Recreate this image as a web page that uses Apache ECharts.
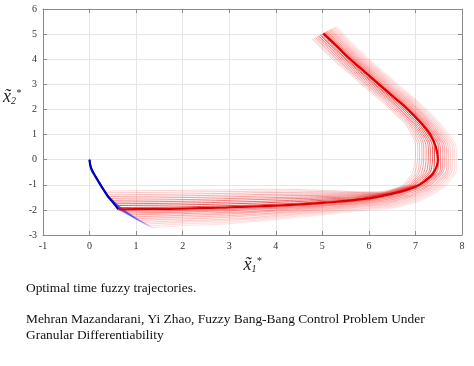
<!DOCTYPE html>
<html>
<head>
<meta charset="utf-8">
<script src="https://cdn.jsdelivr.net/npm/echarts@6/dist/echarts.min.js"></script>
<style>
html,body{margin:0;padding:0;background:#fff;}
#chart{width:474px;height:366px;}
</style>
</head>
<body>
<div id="chart"></div>
<script>
var xTicks = [-1, 0, 1, 2, 3, 4, 5, 6, 7, 8];
var yTicks = [-3, -2, -1, 0, 1, 2, 3, 4, 5, 6];

// crisp (core) red trajectory
var redMain = [[5.02,5.03],[5.31,4.52],[5.6,4.0],[5.91,3.5],[6.22,3.0],[6.53,2.5],[6.84,2.0],[7.10,1.5],[7.32,1.0],[7.44,0.5],[7.48,0.0],[7.45,-0.3],[7.38,-0.55],[7.27,-0.75],[7.0,-1.08],[6.5,-1.36],[6.0,-1.54],[5.0,-1.72],[4.0,-1.83],[3.0,-1.9],[2.0,-1.95],[1.0,-1.97],[0.62,-1.98]];

// inner fuzzy red trajectories (inside the loop)
var redIn01 = [[5.00,5.01],[5.56,4],[6.18,3],[6.80,2],[7.28,1],[7.41,0.3],[7.40,-0.3],[7.23,-0.75],[6.96,-1.08],[6,-1.51],[5,-1.67],[4,-1.77],[3,-1.83],[2,-1.88],[1,-1.90],[0.59,-1.91]];
var redIn02 = [[4.97,4.98],[5.52,4],[6.14,3],[6.76,2],[7.24,1],[7.37,0.3],[7.35,-0.3],[7.19,-0.75],[6.92,-1.09],[6,-1.49],[5,-1.62],[4,-1.70],[3,-1.76],[2,-1.80],[1,-1.82],[0.56,-1.83]];
var redIn03 = [[4.95,4.96],[5.49,4],[6.11,3],[6.72,2],[7.20,1],[7.32,0.3],[7.31,-0.3],[7.14,-0.75],[6.88,-1.09],[6,-1.46],[5,-1.57],[4,-1.64],[3,-1.69],[2,-1.73],[1,-1.75],[0.52,-1.76]];
var redIn04 = [[4.92,4.94],[5.45,4],[6.07,3],[6.68,2],[7.16,1],[7.28,0.3],[7.26,-0.3],[7.10,-0.75],[6.84,-1.10],[6,-1.44],[5,-1.52],[4,-1.57],[3,-1.62],[2,-1.66],[1,-1.68],[0.49,-1.69]];
var redIn05 = [[4.90,4.92],[5.41,4],[6.03,3],[6.65,2],[7.12,1],[7.23,0.3],[7.21,-0.3],[7.06,-0.75],[6.80,-1.10],[6,-1.41],[5,-1.47],[4,-1.51],[3,-1.55],[2,-1.59],[1,-1.61],[0.46,-1.62]];
var redIn06 = [[4.88,4.89],[5.37,4],[5.99,3],[6.61,2],[7.08,1],[7.18,0.3],[7.16,-0.3],[7.02,-0.75],[6.76,-1.10],[6,-1.38],[5,-1.42],[4,-1.44],[3,-1.48],[2,-1.51],[1,-1.53],[0.43,-1.54]];
var redIn07 = [[4.85,4.87],[5.33,4],[5.95,3],[6.57,2],[7.04,1],[7.14,0.3],[7.11,-0.3],[6.98,-0.75],[6.72,-1.11],[6,-1.36],[5,-1.37],[4,-1.38],[3,-1.41],[2,-1.44],[1,-1.46],[0.40,-1.47]];
var redIn08 = [[4.83,4.85],[5.30,4],[5.92,3],[6.53,2],[7.00,1],[7.09,0.3],[7.07,-0.3],[6.93,-0.75],[6.68,-1.11],[6,-1.33],[5,-1.32],[4,-1.31],[3,-1.34],[2,-1.37],[1,-1.39],[0.36,-1.40]];
var redIn09 = [[4.80,4.82],[5.26,4],[5.88,3],[6.49,2],[6.96,1],[7.05,0.3],[7.02,-0.3],[6.89,-0.75],[6.64,-1.12],[6,-1.31],[5,-1.27],[4,-1.25],[3,-1.27],[2,-1.29],[1,-1.31],[0.33,-1.32]];
var redIn10 = [[4.78,4.80],[5.22,4],[5.84,3],[6.45,2],[6.92,1],[7.00,0.3],[6.97,-0.3],[6.85,-0.75],[6.60,-1.12],[6,-1.28],[5,-1.22],[4,-1.18],[3,-1.20],[2,-1.22],[1,-1.24],[0.30,-1.25]];

// outer fuzzy red trajectories (outside the loop)
var redOut01 = [[5.05,5.06],[5.64,4],[6.26,3],[6.88,2],[7.36,1],[7.50,0.3],[7.49,-0.3],[7.32,-0.75],[7.05,-1.10],[6.52,-1.41],[6,-1.59],[5,-1.77],[4,-1.89],[3,-1.97],[2,-2.02],[0.69,-2.05]];
var redOut02 = [[5.07,5.09],[5.68,4],[6.30,3],[6.92,2],[7.40,1],[7.54,0.3],[7.54,-0.3],[7.37,-0.75],[7.09,-1.12],[6.54,-1.46],[6,-1.63],[5,-1.82],[4,-1.94],[3,-2.03],[2,-2.09],[0.77,-2.13]];
var redOut03 = [[5.10,5.12],[5.72,4],[6.34,3],[6.96,2],[7.44,1],[7.59,0.3],[7.58,-0.3],[7.42,-0.75],[7.14,-1.15],[6.56,-1.51],[6,-1.68],[5,-1.86],[4,-2.00],[3,-2.10],[2,-2.15],[0.84,-2.20]];
var redOut04 = [[5.13,5.15],[5.76,4],[6.38,3],[7.00,2],[7.48,1],[7.63,0.3],[7.62,-0.3],[7.47,-0.75],[7.18,-1.17],[6.58,-1.56],[6,-1.72],[5,-1.91],[4,-2.05],[3,-2.16],[2,-2.22],[0.92,-2.28]];
var redOut05 = [[5.16,5.18],[5.80,4],[6.42,3],[7.04,2],[7.52,1],[7.67,0.3],[7.67,-0.3],[7.53,-0.75],[7.23,-1.19],[6.60,-1.61],[6,-1.77],[5,-1.96],[4,-2.11],[3,-2.23],[2,-2.29],[0.99,-2.35]];
var redOut06 = [[5.18,5.20],[5.84,4],[6.46,3],[7.07,2],[7.56,1],[7.71,0.3],[7.71,-0.3],[7.58,-0.75],[7.27,-1.21],[6.62,-1.65],[6,-1.82],[5,-2.01],[4,-2.16],[3,-2.29],[2,-2.36],[1.06,-2.42]];
var redOut07 = [[5.21,5.23],[5.88,4],[6.50,3],[7.11,2],[7.60,1],[7.75,0.3],[7.75,-0.3],[7.63,-0.75],[7.32,-1.23],[6.64,-1.70],[6,-1.86],[5,-2.06],[4,-2.22],[3,-2.36],[2,-2.43],[1.14,-2.50]];
var redOut08 = [[5.24,5.26],[5.92,4],[6.54,3],[7.15,2],[7.64,1],[7.80,0.3],[7.79,-0.3],[7.68,-0.75],[7.36,-1.26],[6.66,-1.75],[6,-1.91],[5,-2.10],[4,-2.27],[3,-2.42],[2,-2.49],[1.21,-2.57]];
var redOut09 = [[5.26,5.29],[5.96,4],[6.58,3],[7.19,2],[7.68,1],[7.84,0.3],[7.84,-0.3],[7.73,-0.75],[7.41,-1.28],[6.68,-1.80],[6,-1.95],[5,-2.15],[4,-2.33],[3,-2.49],[2,-2.56],[1.29,-2.65]];
var redOut10 = [[5.29,5.32],[6.00,4],[6.62,3],[7.23,2],[7.72,1],[7.88,0.3],[7.88,-0.3],[7.78,-0.75],[7.45,-1.30],[6.70,-1.85],[6,-2.00],[5,-2.20],[4,-2.38],[3,-2.55],[2,-2.63],[1.36,-2.72]];

// blue trajectories
var blueMain = [[0,0],[0.005,-0.1],[0.02,-0.25],[0.05,-0.42],[0.12,-0.65],[0.19,-0.87],[0.26,-1.08],[0.33,-1.28],[0.40,-1.48],[0.48,-1.65],[0.55,-1.81],[0.62,-1.98]];
var blueOut01 = [[0,0],[0.01,-0.15],[0.04,-0.35],[0.12,-0.63],[0.24,-1.0],[0.38,-1.4],[0.52,-1.73],[0.69,-2.05]];
var blueOut02 = [[0,0],[0.01,-0.15],[0.04,-0.35],[0.12,-0.63],[0.24,-1.0],[0.38,-1.4],[0.54,-1.77],[0.77,-2.13]];
var blueOut03 = [[0,0],[0.01,-0.15],[0.04,-0.35],[0.12,-0.63],[0.24,-1.0],[0.38,-1.4],[0.57,-1.80],[0.84,-2.20]];
var blueOut04 = [[0,0],[0.01,-0.15],[0.04,-0.35],[0.12,-0.63],[0.24,-1.0],[0.38,-1.4],[0.60,-1.84],[0.92,-2.28]];
var blueOut05 = [[0,0],[0.01,-0.15],[0.04,-0.35],[0.12,-0.63],[0.24,-1.0],[0.38,-1.4],[0.63,-1.88],[0.99,-2.35]];
var blueOut06 = [[0,0],[0.01,-0.15],[0.04,-0.35],[0.12,-0.63],[0.24,-1.0],[0.38,-1.4],[0.66,-1.91],[1.06,-2.42]];
var blueOut07 = [[0,0],[0.01,-0.15],[0.04,-0.35],[0.12,-0.63],[0.24,-1.0],[0.38,-1.4],[0.69,-1.95],[1.14,-2.50]];
var blueOut08 = [[0,0],[0.01,-0.15],[0.04,-0.35],[0.12,-0.63],[0.24,-1.0],[0.38,-1.4],[0.72,-1.99],[1.21,-2.57]];
var blueOut09 = [[0,0],[0.01,-0.15],[0.04,-0.35],[0.12,-0.63],[0.24,-1.0],[0.38,-1.4],[0.74,-2.02],[1.29,-2.65]];
var blueOut10 = [[0,0],[0.01,-0.15],[0.04,-0.35],[0.12,-0.63],[0.24,-1.0],[0.38,-1.4],[0.76,-2.06],[1.36,-2.72]];

var captionTitle = 'Optimal time fuzzy trajectories.';
var captionLines = ['Mehran Mazandarani, Yi Zhao, Fuzzy Bang-Bang Control Problem Under', 'Granular Differentiability'];

var chart = echarts.init(document.getElementById('chart'), null, {renderer: 'canvas'});

var axisGray = '#8a8a8a';
var serif = "'Liberation Serif', 'DejaVu Serif', serif";

function line(data, color, width, z, sm) {
  return {
    type: 'line', data: data, showSymbol: false, symbol: 'none', smooth: sm,
    lineStyle: {color: color, width: width}, silent: true, z: z,
    xAxisIndex: 0, yAxisIndex: 0
  };
}

var inner = [redIn01, redIn02, redIn03, redIn04, redIn05, redIn06, redIn07, redIn08, redIn09, redIn10];
var outer = [redOut01, redOut02, redOut03, redOut04, redOut05, redOut06, redOut07, redOut08, redOut09, redOut10];
var blues = [blueOut01, blueOut02, blueOut03, blueOut04, blueOut05, blueOut06, blueOut07, blueOut08, blueOut09, blueOut10];
var innerAlpha = [0.72, 0.64, 0.56, 0.5, 0.44, 0.38, 0.32, 0.27, 0.22, 0.17];
var outerAlpha = [0.5, 0.43, 0.37, 0.32, 0.27, 0.23, 0.19, 0.16, 0.13, 0.1];
var blueAlpha = [0.7, 0.6, 0.52, 0.45, 0.39, 0.34, 0.29, 0.25, 0.21, 0.17];

var series = [];
for (var i = outer.length - 1; i >= 0; i--) series.push(line(outer[i], 'rgba(255,0,0,' + outerAlpha[i] + ')', 1.2, 2, 0.5));
for (var j = inner.length - 1; j >= 0; j--) series.push(line(inner[j], 'rgba(225,0,0,' + innerAlpha[j] + ')', 1, 2, 0.5));
for (var k = blues.length - 1; k >= 0; k--) series.push(line(blues[k], 'rgba(70,70,255,' + blueAlpha[k] + ')', 1.3, 3, 0.5));
series.push(line(blueMain, '#0000b4', 2.2, 4, 0.5));
series.push(line(redMain, '#dc0000', 2.2, 5, 0.5));

var nameRich = {
  x: {fontFamily: serif, fontStyle: 'italic', fontSize: 18, color: '#222'},
  sub: {fontFamily: serif, fontStyle: 'italic', fontSize: 10, color: '#222', verticalAlign: 'bottom', padding: [8, 0, 0, 0]},
  sup: {fontFamily: serif, fontStyle: 'italic', fontSize: 10, color: '#222', verticalAlign: 'top', padding: [0, 0, 8, 0]}
};

var option = {
  animation: false,
  backgroundColor: '#fff',
  grid: {left: 38, right: 12, top: 9, bottom: 131, containLabel: false},
  xAxis: [{
    type: 'value', min: xTicks[0], max: xTicks[xTicks.length - 1], interval: 1, position: 'bottom',
    axisLine: {show: true, onZero: false, lineStyle: {color: axisGray, width: 1}},
    axisTick: {show: true, inside: true, length: 4, lineStyle: {color: axisGray}},
    axisLabel: {fontFamily: serif, fontSize: 10, color: '#333', margin: 6},
    splitLine: {show: true, lineStyle: {color: '#e6e6e6', width: 1}},
    name: '{x|x\u0303}{sub|1}{sup|*}', nameLocation: 'middle', nameGap: 13,
    nameTextStyle: {rich: nameRich}
  }, {
    type: 'value', min: xTicks[0], max: xTicks[xTicks.length - 1], interval: 1, position: 'top',
    axisLine: {show: true, onZero: false, lineStyle: {color: axisGray, width: 1}},
    axisTick: {show: true, inside: true, length: 4, lineStyle: {color: axisGray}},
    axisLabel: {show: false}, splitLine: {show: false}
  }],
  yAxis: [{
    type: 'value', min: yTicks[0], max: yTicks[yTicks.length - 1], interval: 1, position: 'left',
    axisLine: {show: true, onZero: false, lineStyle: {color: axisGray, width: 1}},
    axisTick: {show: true, inside: true, length: 4, lineStyle: {color: axisGray}},
    axisLabel: {fontFamily: serif, fontSize: 10, color: '#333', margin: 6},
    splitLine: {show: true, lineStyle: {color: '#e6e6e6', width: 1}},
    name: '{x|x\u0303}{sub|2}{sup|*}', nameLocation: 'middle', nameGap: 22, nameRotate: 0,
    nameTextStyle: {rich: nameRich, padding: [0, 0, 50, 0]}
  }, {
    type: 'value', min: yTicks[0], max: yTicks[yTicks.length - 1], interval: 1, position: 'right',
    axisLine: {show: true, onZero: false, lineStyle: {color: axisGray, width: 1}},
    axisTick: {show: true, inside: true, length: 4, lineStyle: {color: axisGray}},
    axisLabel: {show: false}, splitLine: {show: false}
  }],
  series: series,
  graphic: [{
    type: 'text', left: 26, top: 282, silent: true,
    style: {text: captionTitle, fontFamily: serif, fontSize: 13.4, fill: '#111'}
  }, {
    type: 'text', left: 26, top: 311, silent: true,
    style: {text: captionLines.join('\n'), fontFamily: serif, fontSize: 13.4, lineHeight: 16, fill: '#111'}
  }]
};
chart.setOption(option);
</script>
</body>
</html>
